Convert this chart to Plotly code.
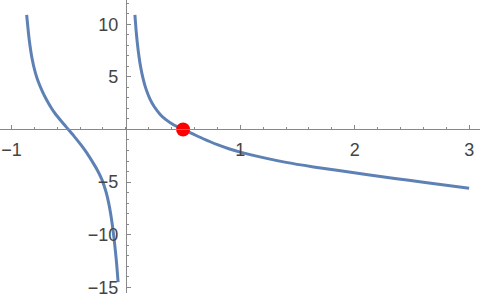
import plotly.graph_objects as go

# Left branch
left_x = [-0.867, -0.845, -0.820, -0.790, -0.766, -0.730, -0.692, -0.650, -0.620,
          -0.560, -0.503, -0.450, -0.392, -0.340, -0.285, -0.250, -0.212, -0.190,
          -0.168, -0.150, -0.133, -0.118, -0.104, -0.092, -0.082, -0.075, -0.068]
left_y = [10.88, 8.55, 6.75, 5.35, 4.55, 3.62, 2.80, 2.02, 1.54,
          0.73, 0.00, -0.68, -1.47, -2.25, -3.20, -3.85, -4.70, -5.35,
          -6.15, -7.00, -8.00, -9.10, -10.30, -11.50, -12.60, -13.50, -14.50]

# Right branch
right_x = [0.079, 0.090, 0.100, 0.115, 0.130, 0.150, 0.175, 0.210, 0.250, 0.300,
           0.350, 0.420, 0.500, 0.580, 0.671, 0.800, 0.900, 1.000, 1.200, 1.400,
           1.640, 1.860, 2.100, 2.350, 2.600, 2.800, 3.000]
right_y = [10.88, 9.34, 8.22, 6.91, 5.89, 4.86, 3.88, 2.91, 2.13, 1.43,
           0.93, 0.42, 0.00, -0.40, -0.86, -1.45, -1.83, -2.15, -2.68, -3.13,
           -3.56, -3.91, -4.28, -4.65, -5.02, -5.30, -5.58]

# Highlighted point
pt_x = [0.5]
pt_y = [0.0]

x_ticks = [-1, 1, 2, 3]
y_ticks = [-15, -10, -5, 5, 10]

x_range = [-1.10, 3.095]
y_range = [-15.54, 12.30]

axis_col = "#888888"
line_col = "#5E81B5"
font = dict(family="Liberation Sans, Arial, sans-serif", size=18, color="#444444")

fig = go.Figure()
fig.add_trace(go.Scatter(x=left_x, y=left_y, mode="lines",
                         line=dict(color=line_col, width=3, shape="spline", smoothing=0.6)))
fig.add_trace(go.Scatter(x=right_x, y=right_y, mode="lines",
                         line=dict(color=line_col, width=3, shape="spline", smoothing=0.6)))
fig.add_trace(go.Scatter(x=pt_x, y=pt_y, mode="markers",
                         marker=dict(color="#FF0000", size=14, line=dict(width=0))))

xpos = (0 - y_range[0]) / (y_range[1] - y_range[0])
ypos = (0 - x_range[0]) / (x_range[1] - x_range[0])

def fmt(v):
    return str(v).replace("-", "\u2212")

fig.update_layout(
    width=480, height=302,
    margin=dict(l=0, r=0, t=0, b=9),
    paper_bgcolor="white", plot_bgcolor="white",
    showlegend=False, hovermode=False,
    xaxis=dict(range=x_range, anchor="free", position=xpos, side="bottom",
               showline=True, linecolor=axis_col, linewidth=1,
               ticks="inside", ticklen=4, tickcolor=axis_col, tickwidth=1,
               tickmode="array", tickvals=x_ticks, ticktext=[fmt(v) for v in x_ticks],
               minor=dict(dtick=0.2, tick0=0, ticks="inside", ticklen=2.5, tickcolor=axis_col),
               showgrid=False, zeroline=False, tickfont=font, ticklabelstandoff=4,
               automargin=False),
    yaxis=dict(range=y_range, anchor="free", position=ypos, side="left",
               showline=True, linecolor=axis_col, linewidth=1,
               ticks="inside", ticklen=4, tickcolor=axis_col, tickwidth=1,
               tickmode="array", tickvals=y_ticks, ticktext=[fmt(v) for v in y_ticks],
               minor=dict(dtick=1, tick0=0, ticks="inside", ticklen=2.5, tickcolor=axis_col),
               showgrid=False, zeroline=False, tickfont=font, ticklabelstandoff=4,
               automargin=False),
)

fig.write_html("out.html")
